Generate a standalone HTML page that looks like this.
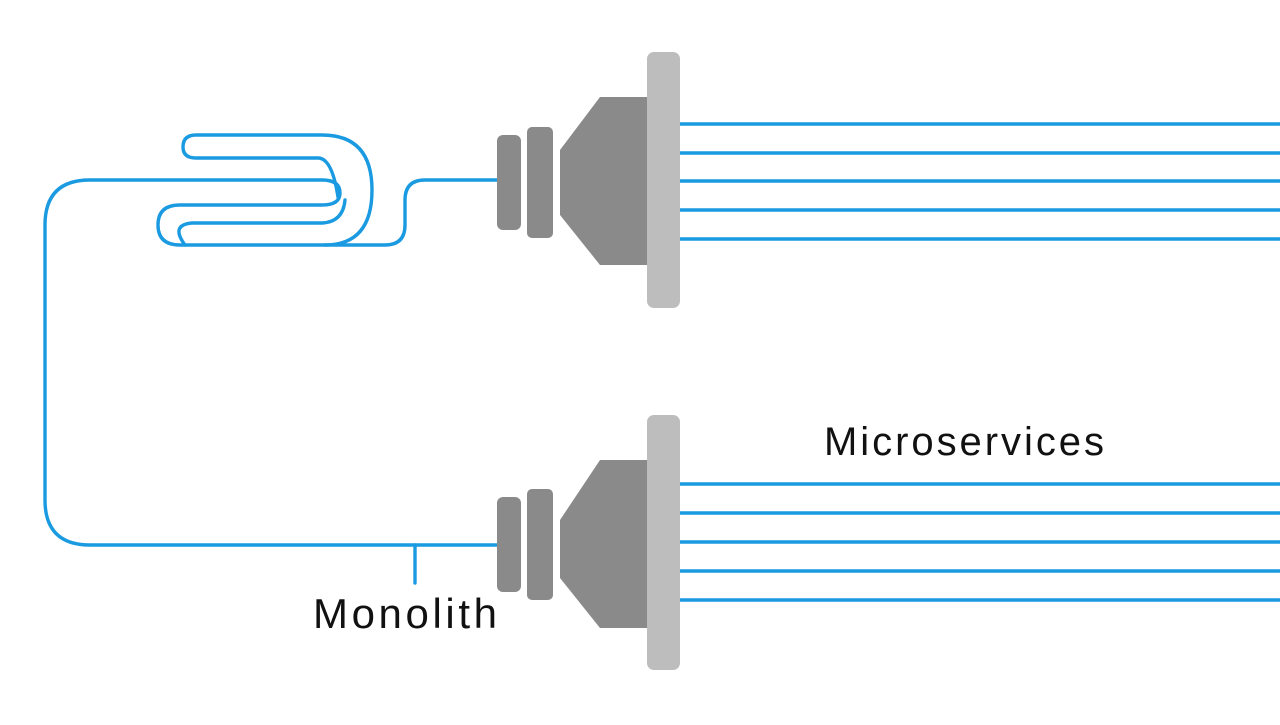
<!DOCTYPE html>
<html><head><style>
body{margin:0;width:1280px;height:720px;background:#fff;overflow:hidden}
</style></head><body>
<svg width="1280" height="720" xmlns="http://www.w3.org/2000/svg">
<g fill="none" stroke="#1a9ae0" stroke-width="3.4" stroke-linecap="round">
<path d="M497,545 H90 Q45,545 45,500 V225 Q45,180 90,180 H322 Q340,180 340,193 Q340,205 322,205 H180 Q158,205 158,225 Q158,245 180,245 H385 Q405,245 405,225 V200 Q405,180 425,180 H497"/>
<path d="M338,197 Q332,158 318,158 H196 Q183,158 183,147 Q183,135 196,135 H322 Q372,135 372,190 Q372,245 325,245"/>
<path d="M185,245 Q170,225 192,223 H322 Q343,222 345,200"/>
<path d="M415,545 V583"/>
<path d="M680,124 H1280 M680,153 H1280 M680,181 H1280 M680,210 H1280 M680,239 H1280"/>
<path d="M680,484 H1280 M680,513 H1280 M680,542 H1280 M680,571 H1280 M680,600 H1280"/>
</g>
<g fill="#8a8a8a">
<rect x="497" y="135" width="24" height="95" rx="6"/>
<rect x="527" y="127" width="26" height="111" rx="5"/>
<path d="M560,150 L600,97 H650 V265 H600 L560,215 Z"/>
<rect x="497" y="497" width="24" height="95" rx="6"/>
<rect x="527" y="489" width="26" height="111" rx="5"/>
<path d="M560,520 L600,460 H650 V628 H600 L560,578 Z"/>
</g>
<g fill="#bdbdbd">
<rect x="647" y="52" width="33" height="256" rx="7"/>
<rect x="647" y="415" width="33" height="255" rx="7"/>
</g>
<text x="313" y="628" font-family="Liberation Sans, sans-serif" font-size="42" fill="#111" textLength="184" lengthAdjust="spacing">Monolith</text>
<text x="824" y="455" font-family="Liberation Sans, sans-serif" font-size="40" fill="#111" textLength="280" lengthAdjust="spacing">Microservices</text>
</svg>
</body></html>
